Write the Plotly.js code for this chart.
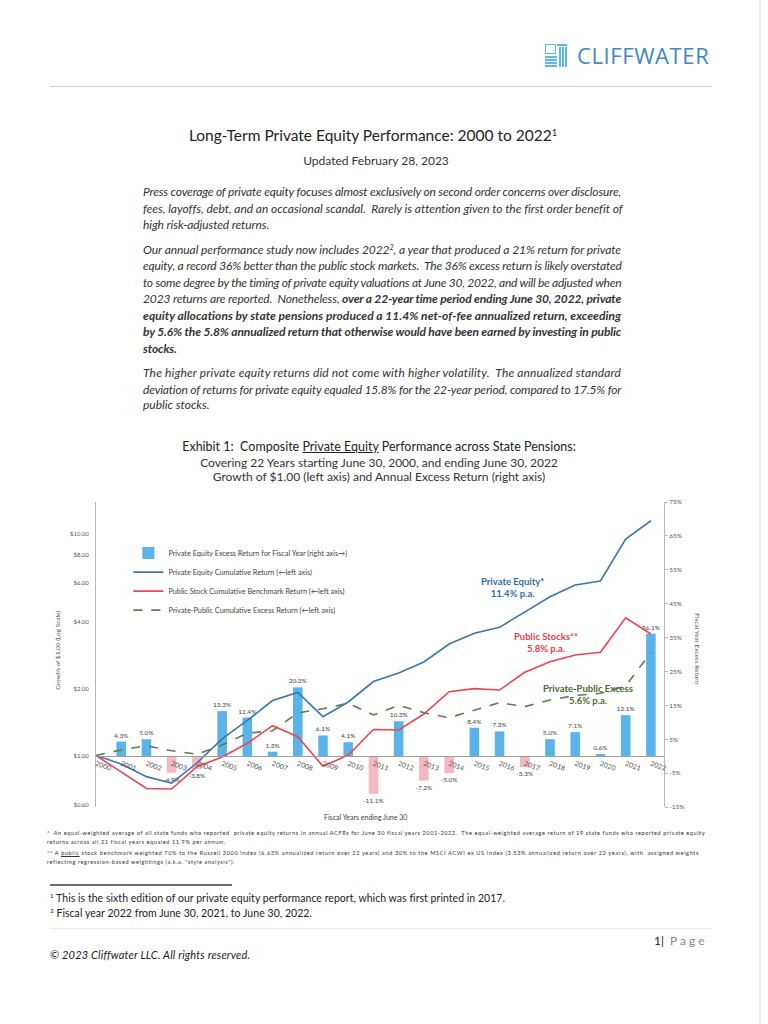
<!DOCTYPE html>
<html>
<head>
<meta charset="utf-8">
<script src="https://cdn.plot.ly/plotly-3.0.1.min.js"></script>
<style>
  html, body { margin:0; padding:0; background:#fff; }
  #page { position:relative; width:768px; height:1024px; overflow:hidden; background:#fff; font-family:Lato, "Open Sans", sans-serif; color:#2b2b2b; }
  .abs { position:absolute; white-space:nowrap; }
  .bodyline { position:absolute; white-space:nowrap; font-style:italic; font-size:12px; line-height:16px; color:#333; }
  .center { transform:translateX(-50%); text-align:center; }
  .fn { position:absolute; white-space:nowrap; font-size:5.6px; line-height:8px; color:#333; }
  #chart { position:absolute; left:0; top:480px; width:768px; height:370px; }
  sup { font-size:60%; vertical-align:top; position:relative; top:-2px; }
</style>
</head>
<body>
<div id="page">
  <!-- logo -->
  <div class="abs" style="left:545px;top:44px;width:9px;height:8px;border:1.5px solid #5bb8e6;"></div>
  <div class="abs" style="left:545px;top:56px;width:12px;height:1.5px;background:#5bb8e6;"></div>
  <div class="abs" style="left:545px;top:59px;width:12px;height:1.5px;background:#5bb8e6;"></div>
  <div class="abs" style="left:545px;top:62px;width:12px;height:1.5px;background:#5bb8e6;"></div>
  <div class="abs" style="left:545px;top:65px;width:12px;height:1.5px;background:#5bb8e6;"></div>
  <div class="abs" style="left:557px;top:44px;width:10px;height:1.5px;background:#5bb8e6;"></div>
  <div class="abs" style="left:559px;top:47px;width:1.5px;height:20px;background:#5bb8e6;"></div>
  <div class="abs" style="left:562px;top:47px;width:1.5px;height:20px;background:#5bb8e6;"></div>
  <div class="abs" style="left:565px;top:47px;width:1.5px;height:20px;background:#5bb8e6;"></div>
  <div class="abs" style="left:577px;top:40px;font-family:'Open Sans',sans-serif;font-size:22px;line-height:30px;color:#3f86c6;letter-spacing:0.6px;">CLIFFWATER</div>
  <div class="abs" style="left:50px;top:86px;width:662px;height:1px;background:#cfd4db;"></div>
  <div class="abs" style="left:759px;top:0;width:2px;height:1024px;background:#ececec;"></div>

  <!-- title -->
  <div class="abs center" style="left:373px;top:124px;font-size:15.5px;line-height:22px;color:#222;">Long-Term Private Equity Performance: 2000 to 2022<sup>1</sup></div>
  <div class="abs center" style="left:376px;top:153px;font-size:12px;line-height:16px;color:#333;">Updated February 28, 2023</div>

  <!-- paragraphs -->
  <div class="para">
    <div class="bodyline fit" data-w="478" style="left:143px;top:184px;"><span>Press coverage of private equity focuses almost exclusively on second order concerns over disclosure,</span></div>
    <div class="bodyline fit" data-w="478" style="left:143px;top:201px;"><span>fees, layoffs, debt, and an occasional scandal.&nbsp; Rarely is attention given to the first order benefit of</span></div>
    <div class="bodyline last" style="left:143px;top:217px;"><span>high risk-adjusted returns.</span></div>
  </div>
  <div class="para">
    <div class="bodyline fit" data-w="478" style="left:143px;top:242px;"><span>Our annual performance study now includes 2022<sup>2</sup>, a year that produced a 21% return for private</span></div>
    <div class="bodyline fit" data-w="478" style="left:143px;top:258px;"><span>equity, a record 36% better than the public stock markets.&nbsp; The 36% excess return is likely overstated</span></div>
    <div class="bodyline fit" data-w="478" style="left:143px;top:275px;"><span>to some degree by the timing of private equity valuations at June 30, 2022, and will be adjusted when</span></div>
    <div class="bodyline fit" data-w="478" style="left:143px;top:291px;"><span>2023 returns are reported.&nbsp; Nonetheless, <b>over a 22-year time period ending June 30, 2022, private</b></span></div>
    <div class="bodyline fit" data-w="478" style="left:143px;top:308px;"><span><b>equity allocations by state pensions produced a 11.4% net-of-fee annualized return, exceeding</b></span></div>
    <div class="bodyline fit" data-w="478" style="left:143px;top:324px;"><span><b>by 5.6% the 5.8% annualized return that otherwise would have been earned by investing in public</b></span></div>
    <div class="bodyline last" style="left:143px;top:341px;"><span><b>stocks.</b></span></div>
  </div>
  <div class="para">
    <div class="bodyline fit" data-w="478" style="left:143px;top:365px;"><span>The higher private equity returns did not come with higher volatility.&nbsp; The annualized standard</span></div>
    <div class="bodyline fit" data-w="478" style="left:143px;top:382px;"><span>deviation of returns for private equity equaled 15.8% for the 22-year period, compared to 17.5% for</span></div>
    <div class="bodyline last" style="left:143px;top:397px;"><span>public stocks.</span></div>
  </div>

  <!-- exhibit titles -->
  <div class="abs center" style="left:379px;top:438px;font-size:12.5px;line-height:17px;color:#222;">Exhibit 1:&nbsp; Composite <u>Private Equity</u> Performance across State Pensions:</div>
  <div class="abs center" style="left:379px;top:455px;font-size:12px;line-height:16px;color:#333;">Covering 22 Years starting June 30, 2000, and ending June 30, 2022</div>
  <div class="abs center" style="left:379px;top:469px;font-size:12px;line-height:16px;color:#333;">Growth of $1.00 (left axis) and Annual Excess Return (right axis)</div>

  <div id="chart"></div>

  <!-- chart footnotes -->
  <div class="fn fit2" data-w="658" style="left:47px;top:829px;"><span>*&nbsp; An equal-weighted average of all state funds who reported&nbsp; private equity returns in annual ACFRs for June 30 fiscal years 2001-2022.&nbsp; The equal-weighted average return of 19 state funds who reported private equity</span></div>
  <div class="fn" style="left:47px;top:838px;"><span>returns across all 21 fiscal years equaled 11.9% per annum.</span></div>
  <div class="fn fit2" data-w="652" style="left:47px;top:849px;"><span>** A <u>public</u> stock benchmark weighted 70% to the Russell 3000 Index (6.63% annualized return over 22 years) and 30% to the MSCI ACWI ex US Index (3.53% annualized return over 22 years), with&nbsp; assigned weights</span></div>
  <div class="fn" style="left:47px;top:858px;"><span>reflecting regression-based weightings (a.k.a. "style analysis").</span></div>

  <!-- page footnotes -->
  <div class="abs" style="left:50px;top:884px;width:182px;height:1.5px;background:#6d6d6d;"></div>
  <div class="abs fit3" data-w="455" style="left:50px;top:891px;font-size:10.5px;line-height:14px;color:#222;"><span><sup>1</sup> This is the sixth edition of our private equity performance report, which was first printed in 2017.</span></div>
  <div class="abs fit3" data-w="262" style="left:50px;top:906px;font-size:10.5px;line-height:14px;color:#222;"><span><sup>2</sup> Fiscal year 2022 from June 30, 2021, to June 30, 2022.</span></div>
  <div class="abs" style="left:50px;top:928px;width:662px;height:1px;background:#ececec;"></div>
  <div class="abs" style="left:654px;top:933px;font-size:12px;line-height:16px;color:#222;">1|<span style="color:#888;letter-spacing:3px;"> Page</span></div>
  <div class="abs fit3" data-w="200" style="left:50px;top:948px;font-size:11px;line-height:14px;font-style:italic;color:#222;"><span>© 2023 Cliffwater LLC. All rights reserved.</span></div>
</div>

<script>
// ---------------- data ----------------
const years = [2000, 2001, 2002, 2003, 2004, 2005, 2006, 2007, 2008, 2009, 2010, 2011,
               2012, 2013, 2014, 2015, 2016, 2017, 2018, 2019, 2020, 2021, 2022];
const yearLabels = ['2000','2001','2002','2003','2004','2005','2006','2007','2008','2009','2010','2011',
                    '2012','2013','2014','2015','2016','2017','2018','2019','2020','2021','2022'];
const barYears = [2001, 2002, 2003, 2004, 2005, 2006, 2007, 2008, 2009, 2010, 2011,
                  2012, 2013, 2014, 2015, 2016, 2017, 2018, 2019, 2020, 2021, 2022];
// Private equity excess return for fiscal year (%)
const excessReturn = [4.3, 5.0, -4.9, -3.8, 13.3, 11.4, 1.3, 20.3, 6.1, 4.1, -11.1,
                      10.3, -7.2, -5.0, 8.4, 7.3, -3.3, 5.0, 7.1, 0.6, 12.1, 36.1];
// Growth of $1.00
const peCumulative = [1.00, 0.916, 0.803, 0.750, 0.925, 1.187, 1.438, 1.769, 1.922, 1.496, 1.742, 2.154,
                      2.353, 2.637, 3.178, 3.552, 3.780, 4.443, 5.191, 5.862, 6.110, 9.44, 11.42];
const publicCumulative = [1.00, 0.845, 0.710, 0.706, 0.890, 0.984, 1.135, 1.362, 1.215, 0.894, 1.005, 1.310,
                          1.303, 1.538, 1.938, 2.000, 1.972, 2.371, 2.645, 2.836, 2.917, 4.176, 3.527];
const excessCumulative = [1.00, 1.059, 1.107, 1.051, 1.012, 1.115, 1.259, 1.293, 1.554, 1.625, 1.718, 1.522,
                          1.683, 1.559, 1.480, 1.603, 1.729, 1.659, 1.778, 1.864, 1.906, 2.056, 2.911];
const leftTicks = [0.6, 1, 2, 4, 6, 8, 10];
const leftTickText = ['$0.60', '$1.00', '$2.00', '$4.00', '$6.00', '$8.00', '$10.00'];
const rightTicks = [-15, -5, 5, 15, 25, 35, 45, 55, 65, 75];
const rightTickText = ['-15%', '-5%', '5%', '15%', '25%', '35%', '45%', '55%', '65%', '75%'];
const seriesNames = [
  'Private Equity Excess Return for Fiscal Year (right axis→)',
  'Private Equity Cumulative Return (←left axis)',
  'Public Stock Cumulative Benchmark Return (←left axis)',
  'Private-Public Cumulative Excess Return (←left axis)'
];

// ---------------- chart ----------------
const BLUE_BAR = '#5ab4ea', PINK_BAR = '#f3b8c0';
const traces = [
  {
    type: 'bar', x: barYears, y: excessReturn, xaxis: 'x', yaxis: 'y',
    name: seriesNames[0], width: 0.38,
    marker: { color: excessReturn.map(v => v >= 0 ? BLUE_BAR : PINK_BAR) },
    text: excessReturn.map(v => v.toFixed(1) + '%'),
    textposition: 'outside', constraintext: 'none', cliponaxis: false,
    textfont: { size: 6.5, color: '#444', family: 'Lato, sans-serif' },
    hoverinfo: 'skip'
  },
  {
    type: 'scatter', mode: 'lines', x: years, y: peCumulative, xaxis: 'x', yaxis: 'y2',
    name: seriesNames[1], line: { color: '#3a77b1', width: 1.6 }, cliponaxis: false
  },
  {
    type: 'scatter', mode: 'lines', x: years, y: publicCumulative, xaxis: 'x', yaxis: 'y2',
    name: seriesNames[2], line: { color: '#f0454f', width: 1.6 }, cliponaxis: false
  },
  {
    type: 'scatter', mode: 'lines', x: years, y: excessCumulative, xaxis: 'x', yaxis: 'y2',
    name: seriesNames[3], line: { color: '#5e7d4c', width: 1.6, dash: 'dash' }, cliponaxis: false
  }
];

const annFont = (c) => ({ size: 9.5, color: c, family: 'Lato, sans-serif' });
const ann = (x, y, text, font, extra) => Object.assign({ xref: 'paper', yref: 'paper', x, y, text, font,
  showarrow: false, xanchor: 'center', yanchor: 'middle' }, extra || {});
const layout = {
  width: 768, height: 370,
  margin: { l: 96, r: 104, t: 22, b: 43 },
  paper_bgcolor: 'rgba(0,0,0,0)', plot_bgcolor: 'rgba(0,0,0,0)',
  font: { family: 'Lato, sans-serif', size: 7, color: '#444' },
  showlegend: true,
  legend: { x: 0.057, y: 0.88, xanchor: 'left', yanchor: 'top', bgcolor: 'rgba(0,0,0,0)',
            font: { size: 7.3, color: '#444' }, traceorder: 'normal' },
  xaxis: {
    type: 'linear', range: [2000, 2022.52], tickvals: years, ticktext: yearLabels,
    tickangle: 20, anchor: 'free', position: 15 / 90,
    showline: true, linecolor: '#9d9d9d', linewidth: 1, showgrid: false, zeroline: false,
    ticks: '', tickfont: { size: 7, color: '#555' }
  },
  yaxis: {
    side: 'right', range: [-15, 75], tickvals: rightTicks, ticktext: rightTickText,
    showline: true, linecolor: '#b8b8b8', ticks: 'outside', ticklen: 3, tickcolor: '#b8b8b8',
    showgrid: false, zeroline: false, tickfont: { size: 6.5, color: '#555' }
  },
  yaxis2: {
    overlaying: 'y', side: 'left', type: 'log',
    range: [Math.log10(0.586), Math.log10(13.87)],
    tickvals: leftTicks, ticktext: leftTickText, ticklabelstandoff: 5,
    showline: true, linecolor: '#b8b8b8', ticks: '', showgrid: false, zeroline: false,
    tickfont: { size: 6, color: '#555' }
  },
  annotations: [
    ann(0.734, 0.72, '<b>Private Equity*</b><br><b>11.4% p.a.</b>', annFont('#2f6ea8')),
    ann(0.792, 0.538, '<b>Public Stocks**</b><br><b>5.8% p.a.</b>', annFont('#ee3c48')),
    ann(0.866, 0.369, '<b>Private-Public Excess</b><br><b>5.6% p.a.</b>', annFont('#4d6a33')),
    ann(-0.067, 0.515, 'Growth of $1.00 (Log Scale)', { size: 6.5, color: '#555' }, { textangle: -90 }),
    ann(1.06, 0.52, 'Fiscal Year Excess Return', { size: 6.5, color: '#555' }, { textangle: 90 }),
    ann(0.474, -0.033, 'Fiscal Years ending June 30', { size: 7, color: '#444' })
  ]
};

Plotly.newPlot('chart', traces, layout, { displayModeBar: false, staticPlot: true });

// ---------------- text fitting ----------------
function fitText() {
  document.querySelectorAll('.para').forEach(p => {
    const vals = [];
    p.querySelectorAll('.fit').forEach(el => {
      el.style.letterSpacing = '0px';
      const span = el.firstElementChild;
      const w = span.getBoundingClientRect().width;
      const n = span.textContent.length;
      const ls = (parseFloat(el.dataset.w) - w) / n;
      el.style.letterSpacing = ls + 'px';
      vals.push(ls);
    });
    const avg = vals.reduce((a, b) => a + b, 0) / Math.max(vals.length, 1);
    p.querySelectorAll('.last').forEach(el => { el.style.letterSpacing = avg + 'px'; });
  });
  let fnAvg = [];
  document.querySelectorAll('.fit2, .fit3').forEach(el => {
    el.style.letterSpacing = '0px';
    const span = el.firstElementChild;
    const w = span.getBoundingClientRect().width;
    const n = span.textContent.length;
    const ls = (parseFloat(el.dataset.w) - w) / n;
    el.style.letterSpacing = ls + 'px';
    if (el.classList.contains('fit2')) fnAvg.push(ls);
  });
  const a = fnAvg.reduce((x, y) => x + y, 0) / Math.max(fnAvg.length, 1);
  document.querySelectorAll('.fn:not(.fit2)').forEach(el => { el.style.letterSpacing = a + 'px'; });
}
fitText();
if (document.fonts && document.fonts.ready) document.fonts.ready.then(fitText);
</script>
</body>
</html>
